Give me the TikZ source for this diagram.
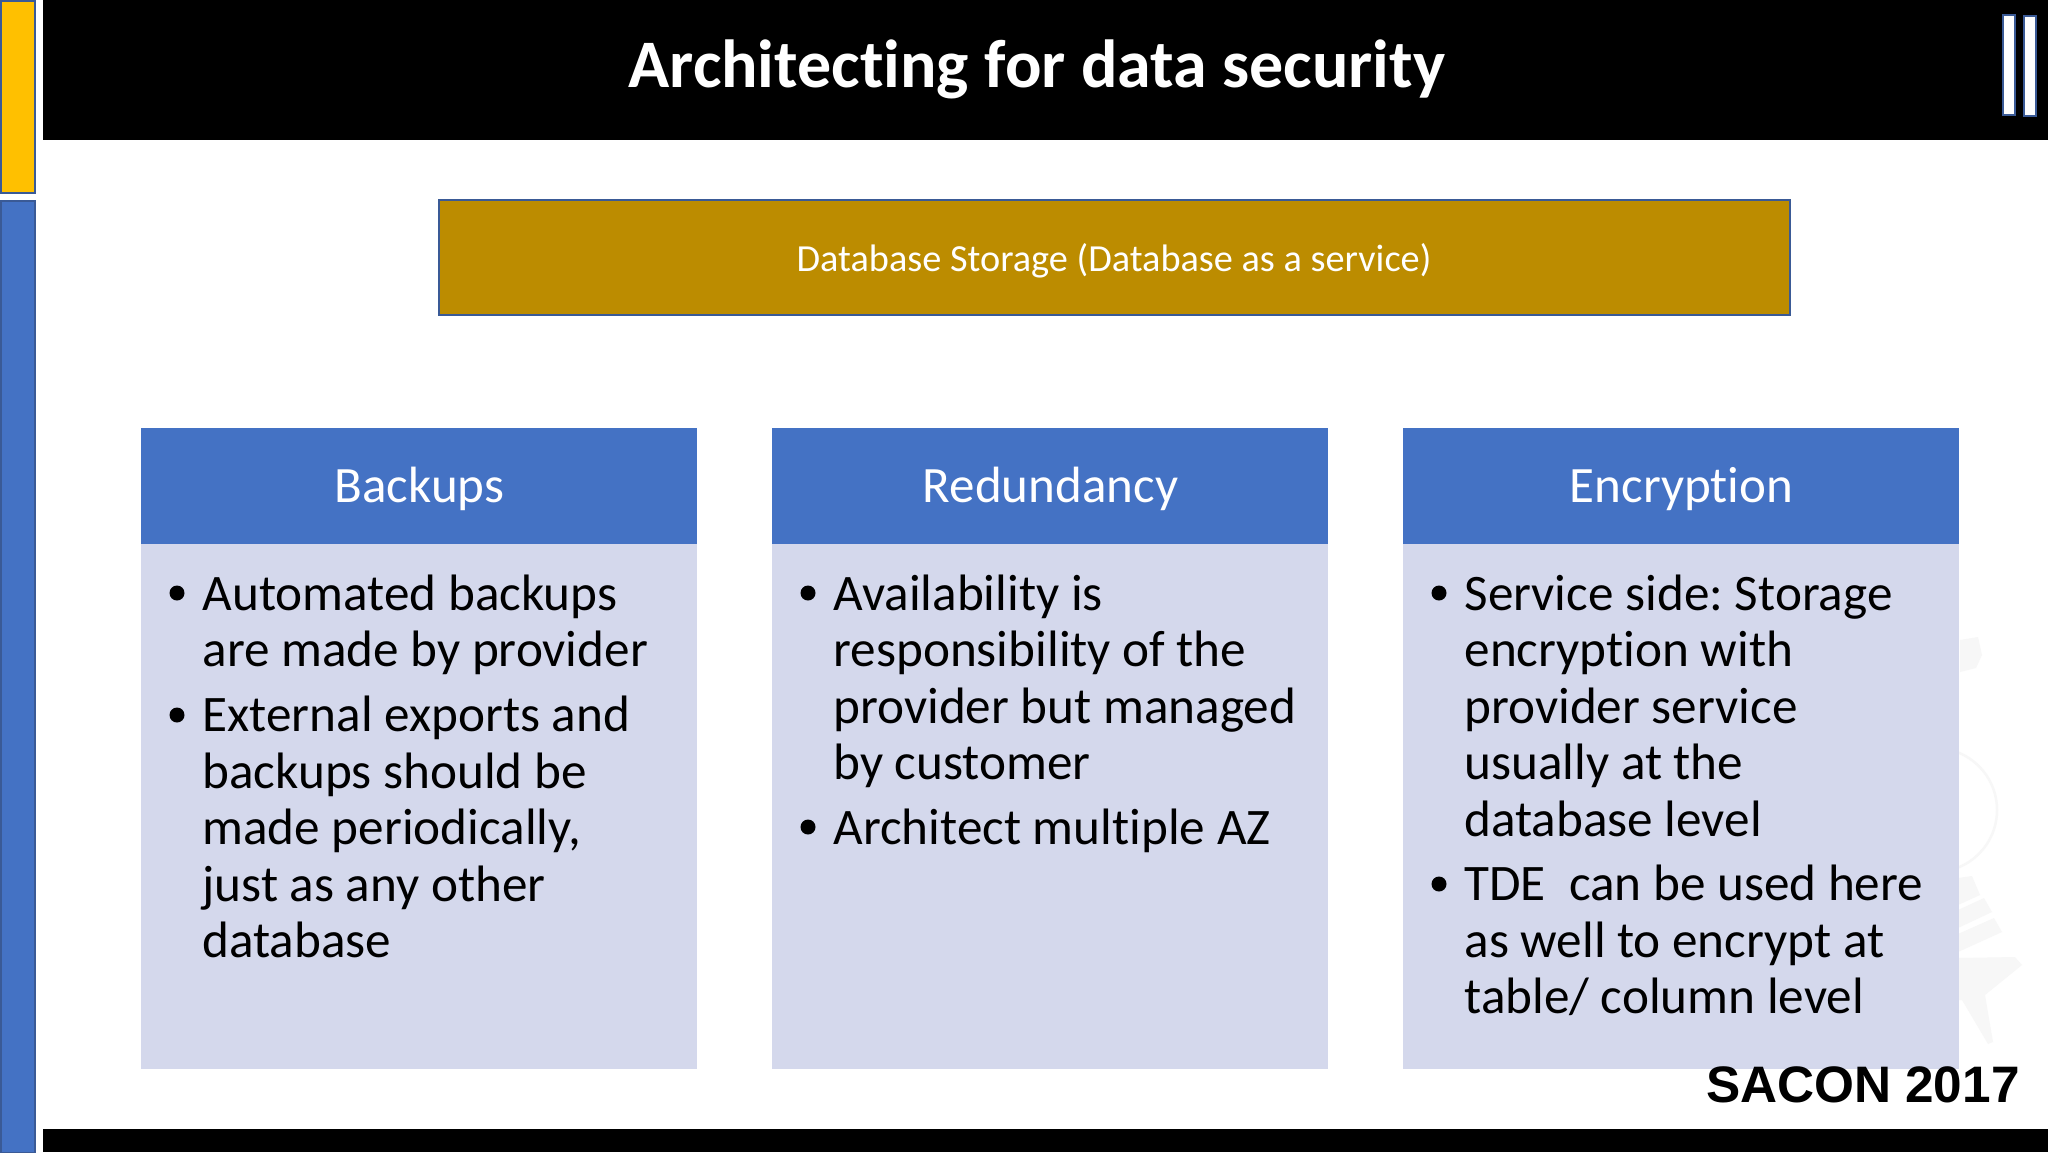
\documentclass[tikz,border=0pt]{standalone}
\usepackage{fontspec}
\setmainfont[Ligatures=NoCommon]{Carlito}
\newfontfamily\sacfont{Liberation Sans}
\definecolor{sblue}{HTML}{4472C4}
\definecolor{slight}{HTML}{D4D8EC}
\definecolor{sgold}{HTML}{BC8C00}
\definecolor{syellow}{HTML}{FFC000}
\definecolor{sedge}{HTML}{3A5A96}
\definecolor{sfaint}{HTML}{F7F7F7}
\newcommand{\bodytext}[1]{\parbox[t]{800pt}{\fontsize{51.2}{56.5}\selectfont\frenchspacing\raggedright #1}}
\tikzset{
  x=1pt,y=-1pt,
  block/.style={inner sep=0pt,outer sep=0pt},
  edged/.style={draw=sedge,line width=2pt},
  head/.style={fill=sblue,draw=none},
  panel/.style={fill=slight,draw=none},
  headtxt/.style={text=white,font=\fontsize{51}{56}\selectfont,anchor=base,inner sep=0pt},
  para/.style={anchor=base west,inner sep=0pt,outer sep=0pt},
  dot/.style={circle,fill=black,inner sep=0pt,minimum size=15pt},
  wm/.style={fill=sfaint,draw=none},
}
\begin{document}
\begin{tikzpicture}
\useasboundingbox (0,0) rectangle (2048,1152);
\fill[white] (0,0) rectangle (2048,1152);
% faint watermark behind the panels
\draw[sfaint,line width=2.5pt] (1935,810) circle (62);
\fill[wm] (1960,640) -- (1978,637) -- (1982,655) -- (1976,668) -- (1960,672) -- cycle;
\fill[wm] (1958,878) -- (1972,876) -- (1980,895) -- (1958,905) -- cycle;
\fill[wm] (1958,910) -- (1984,898) -- (1992,912) -- (1958,928) -- cycle;
\fill[wm] (1958,934) -- (1994,918) -- (2002,932) -- (1958,952) -- cycle;
\fill[wm] (1958,958) -- (2015,957) -- (2022,965) -- (1985,995) -- (1993,1042) -- (1988,1044) -- (1962,1000) -- (1958,1000) -- cycle;
% frame
\filldraw[fill=syellow,edged] (1,1) rectangle (35,193);
\filldraw[fill=sblue,edged] (1,201) rectangle (35,1153);
\fill[black] (43,0) rectangle (2048,140);
\fill[black] (43,1129) rectangle (2048,1152);
\filldraw[fill=white,edged] (2003,15) rectangle (2015,115);
\filldraw[fill=white,edged] (2024,16) rectangle (2036,116);
\node[block,text=white,anchor=base,font=\fontsize{68}{72}\selectfont\bfseries] (title) at (1037,87) {Architecting for data security};
% top bar
\node[block,edged,fill=sgold,minimum width=1351pt,minimum height=115pt,anchor=north west] (bar) at (438.5,199.5) {};
\node[block,text=white,anchor=base,font=\fontsize{38.3}{42}\selectfont] (bartxt) at (1114,271) {Database Storage (Database as a service)};
% panels
\fill[panel] (141,544) rectangle (697,1069);
\fill[panel] (772,544) rectangle (1328,1069);
\fill[panel] (1403,544) rectangle (1959,1069);
\fill[head] (141,428) rectangle (697,544);
\fill[head] (772,428) rectangle (1328,544);
\fill[head] (1403,428) rectangle (1959,544);
\node[headtxt] (h1) at (419.5,502) {Backups};
\node[headtxt] (h2) at (1050.5,502) {Redundancy};
\node[headtxt] (h3) at (1681.5,502) {Encryption};
% bullets
\node[dot] (d1) at (177,593) {};
\node[dot] (d2) at (177,715) {};
\node[dot] (d3) at (808,593) {};
\node[dot] (d4) at (808,827) {};
\node[dot] (d5) at (1439,593) {};
\node[dot] (d6) at (1439,884) {};
\node[para] (p1) at (202.5,610) {\bodytext{Automated backups\\are made by provider}};
\node[para] (p2) at (202.5,731.5) {\bodytext{External exports and\\backups should be\\made periodically,\\just as any other\\database}};
\node[para] (p3) at (833.5,610) {\bodytext{Availability is\\responsibility of the\\provider but managed\\by customer}};
\node[para] (p4) at (833.5,844) {\bodytext{Architect multiple AZ}};
\node[para] (p5) at (1464.5,610) {\bodytext{Service side: Storage\\encryption with\\provider service\\usually at the\\database level}};
\node[para] (p6) at (1464.5,900.5) {\bodytext{TDE\ \ can be used here\\as well to encrypt at\\table/ column level}};
\node[block,anchor=base west,font=\sacfont\bfseries\fontsize{51.3}{54}\selectfont] (sacon) at (1706,1102) {SACON 2017};
\end{tikzpicture}
\end{document}
